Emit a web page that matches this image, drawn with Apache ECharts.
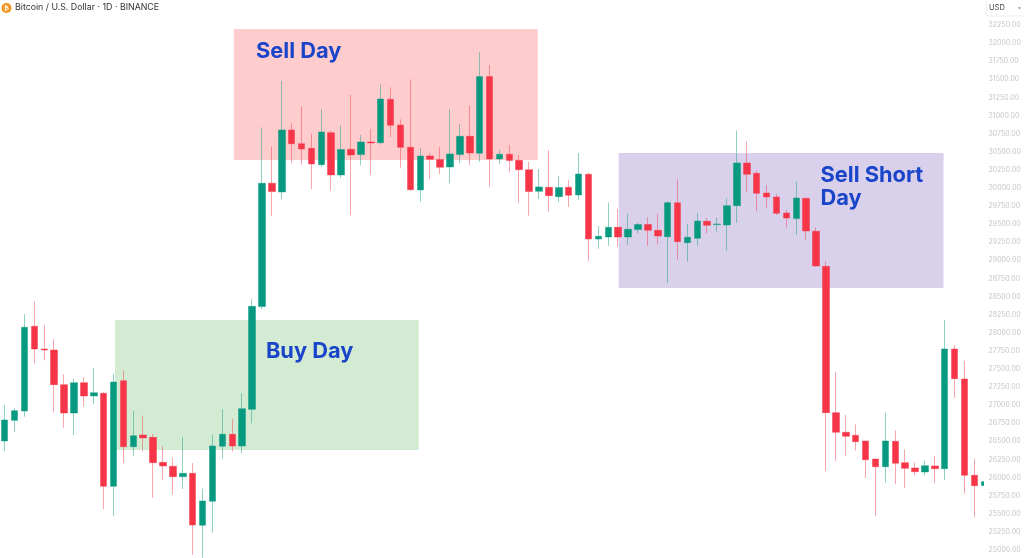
<!DOCTYPE html>
<html>
<head>
<meta charset="utf-8">
<title>Bitcoin / U.S. Dollar</title>
<script src="https://cdn.jsdelivr.net/npm/echarts@6/dist/echarts.min.js"></script>
<style>
html, body { margin: 0; padding: 0; background: #fff; }
#chart { width: 1024px; height: 558px; }
</style>
</head>
<body>
<div id="chart"></div>
<script>
var opens = [26505, 26790, 26919, 28088, 27775, 27761, 27283, 26891, 27310, 27126,
	27163, 25879, 27338, 26426, 26588, 26555, 26210, 26155, 26012, 26058,
	25340, 25672, 26431, 26597, 26436, 26942, 28361, 30064, 29944, 30800,
	30611, 30547, 30321, 30763, 30179, 30533, 30460, 30634, 30625, 31224,
	30869, 30561, 29972, 30441, 30391, 30289, 30460, 30713, 30478, 31537,
	30400, 30464, 30381, 30252, 29953, 30008, 29879, 30008, 29902, 30188,
	29295, 29322, 29456, 29322, 29424, 29493, 29414, 29327, 29796, 29244,
	29304, 29539, 29493, 29488, 29755, 30344, 30202, 29930, 29875, 29654,
	29576, 29856, 29401, 28917, 26896, 26625, 26583, 26505, 26256, 26150,
	26500, 26206, 26132, 26077, 26160, 26123, 27775, 27361, 26031, 25888];
var closes = [26795, 26924, 28074, 27775, 27761, 27283, 26891, 27310, 27126, 27172,
	25879, 27319, 26426, 26578, 26546, 26206, 26160, 26012, 26058, 25345,
	25676, 26436, 26597, 26436, 26951, 28364, 30064, 29949, 30800, 30611,
	30538, 30331, 30773, 30179, 30529, 30455, 30634, 30621, 31228, 30865,
	30561, 29976, 30441, 30395, 30285, 30469, 30713, 30483, 31537, 30400,
	30464, 30377, 30252, 29949, 30013, 29893, 30004, 29898, 30192, 29295,
	29332, 29456, 29322, 29428, 29493, 29414, 29336, 29796, 29258, 29318,
	29543, 29483, 29502, 29755, 30344, 30188, 29925, 29875, 29649, 29585,
	29861, 29405, 28922, 26896, 26625, 26569, 26496, 26247, 26150, 26505,
	26197, 26127, 26081, 26164, 26123, 27775, 27366, 26031, 25888, 25943];
var lows = [26367, 26634, 26841, 27577, 27619, 26901, 26689, 26588, 26979, 27016,
	25566, 25469, 26201, 26298, 26362, 25722, 25966, 25764, 25842, 24931,
	24894, 25239, 26265, 26362, 26334, 26749, 28324, 29613, 29843, 30340,
	30321, 29985, 30289, 29962, 30137, 29626, 30312, 30179, 30598, 30704,
	30280, 29962, 29806, 30124, 30193, 30064, 30344, 30317, 30358, 30018,
	30331, 30216, 29792, 29617, 29847, 29672, 29806, 29737, 29842, 28986,
	29161, 29198, 29189, 29212, 29373, 29198, 29221, 28687, 29005, 28982,
	29198, 29373, 29396, 29134, 29520, 29935, 29677, 29723, 29626, 29451,
	29355, 29276, 28913, 26091, 26229, 26302, 26376, 25994, 25469, 25930,
	25911, 25856, 26031, 26031, 25920, 25966, 27099, 25778, 25451, 25888];
var highs = [27002, 26960, 28258, 28433, 28102, 27909, 27425, 27361, 27389, 27513,
	27186, 27430, 27476, 26919, 26855, 26601, 26436, 26275, 26560, 26201,
	25847, 26597, 26942, 26809, 27163, 28470, 30837, 30570, 31472, 30892,
	31122, 30745, 31090, 30791, 30865, 31288, 30731, 30814, 31431, 31389,
	30947, 31500, 30552, 30478, 30565, 31090, 30883, 31136, 31873, 31698,
	30524, 30593, 30455, 30358, 30261, 30519, 30160, 30105, 30482, 30211,
	29474, 29796, 29709, 29640, 29520, 29594, 29640, 29815, 30119, 29502,
	29654, 29580, 29589, 29856, 30791, 30643, 30238, 30036, 29912, 29695,
	30086, 29866, 29456, 28982, 27458, 26864, 26735, 26505, 26256, 26896,
	26648, 26390, 26210, 26233, 26298, 28176, 27831, 27610, 26261, 25943];

var priceTicks = [25000, 25250, 25500, 25750, 26000, 26250, 26500, 26750, 27000, 27250,
	27500, 27750, 28000, 28250, 28500, 28750, 29000, 29250, 29500, 29750,
	30000, 30250, 30500, 30750, 31000, 31250, 31500, 31750, 32000, 32250];

var zoneNames = ['Buy', 'Sell', 'Sell Short'];
var zoneFrom = [11.14, 23.16, 62.05];
var zoneTo = [41.85, 53.87, 94.88];
var zoneHigh = [28176, 32195, 30482];
var zoneLow = [26381, 30386, 28618];
var zoneColors = ['#d3ebd3', '#ffcccd', '#d9d0ec'];

var noteTexts = ['Buy Day', 'Sell Day', 'Sell Short\nDay'];
var noteBars = [26.4, 25.4, 82.45];
var notePrices = [27748, 31891, 30013];

var candles = opens.map(function(open, i) {
	return [i, open, closes[i], lows[i], highs[i]];
});

var chart = echarts.init(document.getElementById('chart'));

chart.setOption({
	animation: false,
	backgroundColor: '#ffffff',
	title: {
		text: 'Bitcoin / U.S. Dollar · 1D · BINANCE',
		left: 15,
		top: 3,
		padding: 0,
		textStyle: {
			fontFamily: 'Inter',
			fontSize: 8.8,
			fontWeight: 'normal',
			color: '#333333'
		}
	},
	grid: {
		left: 0,
		top: 0,
		width: 984,
		height: 558
	},
	xAxis: {
		type: 'value',
		min: -0.475,
		max: 98.92,
		containShape: false,
		show: false
	},
	yAxis: {
		type: 'value',
		position: 'right',
		min: 24889,
		max: 32595,
		splitLine: { show: false },
		axisLine: { show: false },
		axisTick: { show: false },
		axisLabel: {
			customValues: priceTicks,
			margin: 5,
			fontFamily: 'Inter',
			fontSize: 7,
			color: '#c4c6cc',
			formatter: function(v) {
				return v.toFixed(2);
			}
		}
	},
	series: [{
		type: 'candlestick',
		barWidth: 7,
		clip: true,
		encode: { x: 0, y: [1, 2, 3, 4] },
		itemStyle: {
			color: '#089981',
			color0: '#f63648',
			borderColor: 'rgba(8,153,129,0.45)',
			borderColor0: 'rgba(246,54,72,0.45)',
			borderWidth: 1
		},
		markArea: {
			silent: true,
			z: 1,
			data: zoneNames.map(function(name, i) {
				return [{
					name: name,
					coord: [zoneFrom[i], zoneHigh[i]],
					itemStyle: { color: zoneColors[i], opacity: 1 },
					label: { show: false }
				}, {
					coord: [zoneTo[i], zoneLow[i]]
				}];
			})
		},
		data: candles,
		z: 2
	}, {
		type: 'scatter',
		symbolSize: 0,
		silent: true,
		z: 3,
		itemStyle: { opacity: 1 },
		label: {
			show: true,
			position: 'right',
			distance: 0,
			fontFamily: 'Inter',
			fontSize: 21.8,
			fontWeight: 'bold',
			lineHeight: 23,
			color: '#1a45c9',
			formatter: function(p) {
				return noteTexts[p.dataIndex];
			}
		},
		data: noteBars.map(function(bar, i) {
			return [bar, notePrices[i]];
		})
	}],
	graphic: [{
		// price scale panel cuts off the last candle
		type: 'rect',
		z: 10,
		shape: { x: 984, y: 0, width: 4.5, height: 558 },
		style: { fill: '#ffffff' }
	}, {
		type: 'circle',
		shape: { cx: 6.5, cy: 8, r: 5 },
		style: { fill: '#f7931a' }
	}, {
		type: 'text',
		x: 6.5,
		y: 8,
		style: {
			text: '₿',
			fill: '#ffffff',
			font: 'bold 7px "DejaVu Sans"',
			align: 'center',
			verticalAlign: 'middle'
		}
	}, {
		type: 'rect',
		z: 11,
		shape: { x: 986.5, y: -2, width: 40, height: 18, r: 2 },
		style: { fill: '#ffffff', stroke: '#eeeeee', lineWidth: 1 }
	}, {
		type: 'text',
		z: 12,
		x: 989,
		y: 8,
		style: {
			text: 'USD',
			fill: '#444444',
			font: '7.5px Inter',
			verticalAlign: 'middle'
		}
	}, {
		type: 'polygon',
		z: 12,
		shape: { points: [[1018, 7.5], [1021, 7.5], [1019.5, 9]] },
		style: { fill: '#666666' }
	}]
});
</script>
</body>
</html>
